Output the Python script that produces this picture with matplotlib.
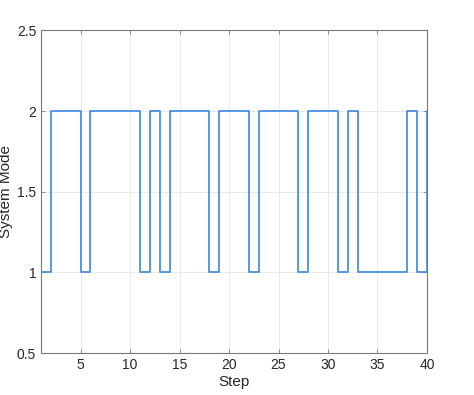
import matplotlib
matplotlib.use("Agg")
import matplotlib.pyplot as plt
import numpy as np

steps = list(range(1, 41))
mode = [1, 2, 2, 2, 1, 2, 2, 2, 2, 2,
        1, 2, 1, 2, 2, 2, 2, 1, 2, 2,
        2, 1, 2, 2, 2, 2, 1, 2, 2, 2,
        1, 2, 1, 1, 1, 1, 1, 2, 1, 2]
xticks = [5, 10, 15, 20, 25, 30, 35, 40]
yticks = [0.5, 1, 1.5, 2, 2.5]
ytick_labels = ["0.5", "1", "1.5", "2", "2.5"]

plt.rcParams['font.family'] = ['Liberation Sans', 'DejaVu Sans']
fig = plt.figure(figsize=(4.74, 3.95), dpi=100)
ax = fig.add_axes([0.0865, 0.1063, 0.8143, 0.8165])
ax.step(steps, mode, where='post', color='#4a90e2', linewidth=1.3)
ax.set_xlim(1, 40)
ax.set_ylim(0.5, 2.5)
ax.set_xticks(xticks)
ax.set_yticks(yticks)
ax.set_yticklabels(ytick_labels)
ax.grid(True, color='#e6e6e6', linewidth=0.6)
ax.set_axisbelow(True)
for s in ax.spines.values():
    s.set_color('#7a7a7a')
    s.set_linewidth(0.8)
ax.tick_params(direction='in', length=3, width=0.6, color='#7a7a7a',
               labelsize=10, labelcolor='#262626', top=True, right=True)
ax.set_xlabel('Step', fontsize=11, color='#262626', labelpad=2)
ax.set_ylabel('System Mode', fontsize=11, color='#262626', labelpad=3)
fig.savefig('out.png', dpi=100)
